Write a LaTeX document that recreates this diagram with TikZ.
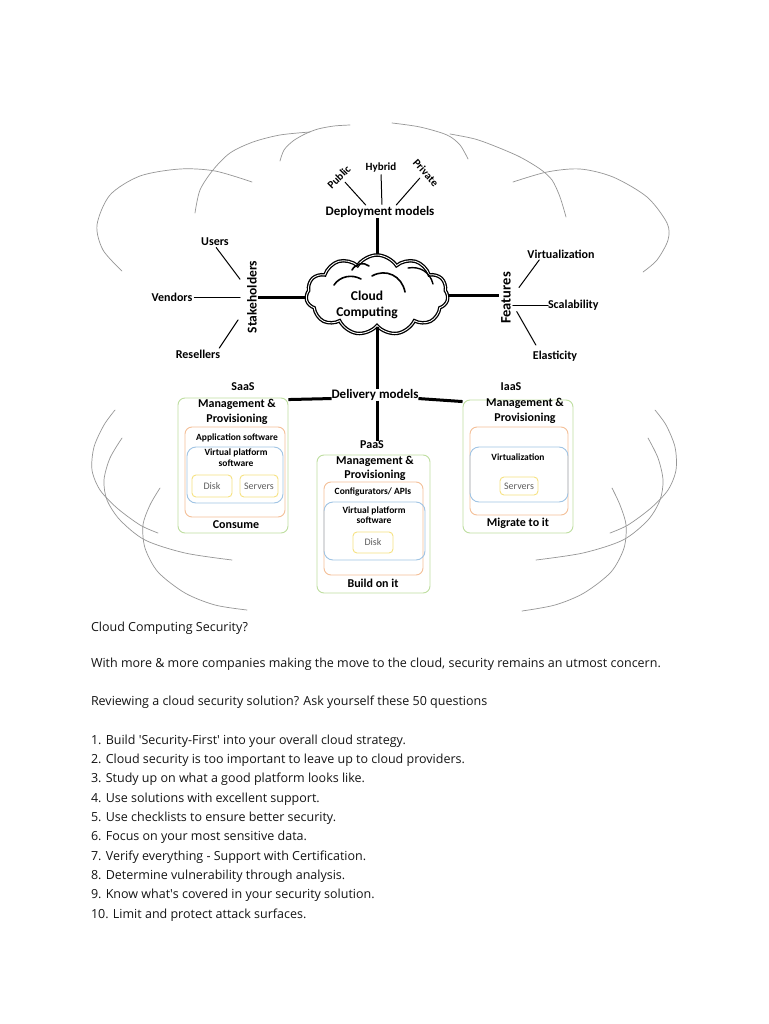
\documentclass[tikz,border=0pt]{standalone}
\usepackage{fontspec}
\setmainfont{Open Sans}
\newfontfamily\calfont{Carlito}
\usetikzlibrary{shapes.symbols}

\begin{document}
\begin{tikzpicture}[x=1pt,y=-1pt,line cap=round]
\definecolor{arcgray}{RGB}{150,150,150}
\definecolor{boxgreen}{RGB}{190,222,160}
\definecolor{boxorange}{RGB}{244,192,152}
\definecolor{boxblue}{RGB}{160,196,228}
\definecolor{boxyellow}{RGB}{246,226,130}
\definecolor{lblgray}{RGB}{95,95,95}
\definecolor{bodytext}{RGB}{20,20,20}
\tikzset{
  lbl/.style={inner sep=0, outer sep=0, text=black, font=\calfont\bfseries\fontsize{#1}{#1}\selectfont},
  lbl/.default=12,
  small/.style={inner sep=0, outer sep=0, text=lblgray, font=\calfont\fontsize{#1}{#1}\selectfont},
  small/.default=10,
  body/.style={inner sep=0, outer sep=0, anchor=base west, text=bodytext, font=\fontsize{12.5}{12.5}\selectfont},
  spoke/.style={line width=3pt, line cap=butt},
  twig/.style={line width=1pt, shorten <=2pt, shorten >=2pt},
  arcline/.style={draw=arcgray, line width=0.7pt},
  gbox/.style={draw=boxgreen, line width=0.9pt, rounded corners=7pt},
  obox/.style={draw=boxorange, line width=0.9pt, rounded corners=7pt},
  bbox/.style={draw=boxblue, line width=0.9pt, rounded corners=9pt},
  ybox/.style={draw=boxyellow, line width=0.9pt, rounded corners=4pt},
}
\useasboundingbox (0,0) rectangle (768,1024);
\fill[white] (0,0) rectangle (768,1024);

% outer cloud
\draw[arcline] plot[smooth] coordinates {(252,182) (215,171) (180,169) (140,176) (110,195) (97,225) (103,250) (122,271)};
\draw[arcline] plot[smooth] coordinates {(195,213) (200,190) (213,170) (230,153) (253,142) (280,135) (310,132)};
\draw[arcline] plot[smooth] coordinates {(280,161) (284,150) (293,141) (305,134) (318,129) (334,126) (350,125)};
\draw[arcline] plot[smooth] coordinates {(392,123) (420,127) (447,135) (460,145) (468,159)};
\draw[arcline] plot[smooth] coordinates {(450,134) (475,139) (497,147) (520,157) (540,169) (552,180) (560,197) (566,217)};
\draw[arcline] plot[smooth] coordinates {(513,182) (547,172) (580,169) (613,177) (647,197) (667,223) (668,240) (657,260) (643,272)};
\draw[arcline] plot[smooth] coordinates {(115,410) (104,425) (94,447) (92,470) (100,490) (117,508) (140,525) (158,533)};
\draw[arcline] plot[smooth] coordinates {(122,438) (110,458) (104,480) (107,500) (120,520) (145,540) (185,553) (232,560)};
\draw[arcline] plot[smooth] coordinates {(160,488) (150,505) (143,525) (145,548) (158,572) (185,593) (215,605) (247,610)};
\draw[arcline] plot[smooth] coordinates {(655,410) (666,425) (675,447) (676,470) (668,490) (651,508) (628,525) (610,533)};
\draw[arcline] plot[smooth] coordinates {(648,438) (658,458) (663,480) (660,500) (648,520) (623,540) (583,553) (536,560)};
\draw[arcline] plot[smooth] coordinates {(612,488) (620,505) (626,525) (624,548) (611,572) (584,593) (555,605) (522,611)};

% center
\node[cloud, draw, cloud puffs=11, cloud puff arc=115, aspect=1.8, minimum width=142, minimum height=80, line width=1.3pt, double, double distance=0.9pt] (cc) at (377,295) {};
\draw[line width=1.6pt] (334,285) .. controls (340,276) and (352,274) .. (361,279);
\draw[line width=1.6pt] (352,270) .. controls (356,263) and (364,262) .. (369,266);
\draw[line width=1.6pt] (372,276) .. controls (386,268) and (402,276) .. (405,292);
\draw[line width=1.4pt] (408,268) .. controls (420,266) and (430,272) .. (433,284);
\node[lbl, align=center, font=\calfont\bfseries\fontsize{13.5}{16}\selectfont] (cctext) at (367,305) {Cloud\\Computing};

% deployment models
\node[lbl=13] (dep) at (380,212) {Deployment models};
\node[lbl=11, rotate=45] (pub) at (339,177) {Public};
\node[lbl=11] (hyb) at (381,168) {Hybrid};
\node[lbl=11, rotate=-48] (priv) at (426,173) {Private};
\draw[twig] ([xshift=2pt,yshift=-1pt]pub.south) -- ([xshift=-13pt]dep.north);
\draw[twig] (hyb.south) -- ([xshift=2pt]dep.north);
\draw[twig] ([xshift=-2pt,yshift=-1pt]priv.south) -- ([xshift=15pt]dep.north);
\draw[spoke] (cc.north) -- (cc.north |- dep.south);

% stakeholders
\node[lbl=13.5, rotate=90] (stake) at (252,297) {Stakeholders};
\node[lbl] (users) at (215,242) {Users};
\node[lbl] (vend) at (172,297) {Vendors};
\node[lbl] (resel) at (198,354) {Resellers};
\draw[twig] (users.south) -- ([xshift=-6pt,yshift=-20pt]stake.north east);
\draw[twig] (vend.east) -- ([xshift=-5pt]stake.north);
\draw[twig] ([xshift=-2pt]resel.north east) -- ([xshift=-8pt,yshift=15pt]stake.north west);
\draw[spoke] ([xshift=1pt]stake.south) -- (stake.south -| cc.west);

% features
\node[lbl=14.5, rotate=90] (feat) at (506,298) {Features};
\node[lbl] (virt) at (561,254) {Virtualization};
\node[lbl, anchor=west] (scal) at (548,305) {Scalability};
\node[lbl] (elas) at (555,356) {Elasticity};
\draw[twig] ([xshift=13pt]virt.south west) -- ([xshift=7pt,yshift=-17pt]feat.south east);
\draw[line width=1pt] (scal.west) -- ([xshift=2pt]scal.west -| feat.south);
\draw[twig] ([xshift=4pt,yshift=4pt]elas.north west) -- ([xshift=5pt,yshift=14pt]feat.south west);
\draw[spoke] (cc.east) -- ([xshift=-2pt]cc.east -| feat.north);

% delivery models
\node[lbl=13] (deliv) at (375,395) {Delivery models};
\draw[spoke] (cc.south) -- (cc.south |- deliv.north);

% SaaS
\node[gbox, minimum width=110, minimum height=135] (saasbox) at (233,465.5) {};
\node[obox, minimum width=100, minimum height=90] (saasapp) at (235,472) {};
\node[bbox, minimum width=96, minimum height=56] (saasvp) at (235,475) {};
\node[ybox, minimum width=40, minimum height=22] (saasdisk) at (212,486) {};
\node[ybox, minimum width=38, minimum height=22] (saassrv) at (259,486) {};
\node[lbl] (saas) at (243,387) {SaaS};
\node[lbl, align=center, font=\calfont\bfseries\fontsize{12}{15}\selectfont] (saasmp) at (237,411.5) {Management \&\\Provisioning};
\node[lbl=9.5] (saasapptxt) at (237,438) {Application software};
\node[lbl, align=center, font=\calfont\bfseries\fontsize{9.5}{11}\selectfont] (saasvptxt) at (236,457.5) {Virtual platform\\software};
\node[small] (saasdisktxt) at (saasdisk) {Disk};
\node[small] (saassrvtxt) at (saassrv) {Servers};
\node[lbl] (saasuse) at (236,525) {Consume};
\draw[spoke] (deliv.base west) -- ([yshift=-2pt]saasbox.north east);

% PaaS
\node[gbox, minimum width=113, minimum height=138] (paasbox) at (373.5,524) {};
\node[obox, minimum width=99, minimum height=93] (paascfg) at (373.5,528.5) {};
\node[bbox, minimum width=101, minimum height=58] (paasvp) at (374.5,531) {};
\node[ybox, minimum width=40, minimum height=21] (paasdisk) at (373,542.5) {};
\node[lbl] (paas) at (372,445) {PaaS};
\node[lbl, align=center, font=\calfont\bfseries\fontsize{12}{13.5}\selectfont] (paasmp) at (375,468.5) {Management \&\\Provisioning};
\node[lbl=9.5] (paascfgtxt) at (373,492) {Configurators/ APIs};
\node[lbl, align=center, font=\calfont\bfseries\fontsize{9.5}{10.5}\selectfont] (paasvptxt) at (374,515) {Virtual platform\\software};
\node[small] (paasdisktxt) at (paasdisk) {Disk};
\node[lbl] (paasuse) at (373,583) {Build on it};
\draw[spoke] (cc.south |- deliv.south) -- (cc.south |- paas.north);

% IaaS
\node[gbox, minimum width=110, minimum height=133] (iaasbox) at (518,466.5) {};
\node[obox, minimum width=98, minimum height=88] (iaasvirt) at (519,471) {};
\node[bbox, minimum width=98, minimum height=55] (iaasvp) at (519,474.5) {};
\node[ybox, minimum width=38, minimum height=18] (iaassrv) at (519,486) {};
\node[lbl] (iaas) at (511,387) {IaaS};
\node[lbl, align=center, font=\calfont\bfseries\fontsize{12}{15}\selectfont] (iaasmp) at (525,410.5) {Management \&\\Provisioning};
\node[lbl=9.5] (iaasvirttxt) at (518,457) {Virtualization};
\node[small] (iaassrvtxt) at (iaassrv) {Servers};
\node[lbl] (iaasuse) at (518,523) {Migrate to it};
\draw[spoke] (deliv.base east) -- ([yshift=-2pt]iaasbox.north west);

% text below
\node[body] (title) at (91,631) {Cloud Computing Security?};
\node[body] (intro) at (91,667) {With more \& more companies making the move to the cloud, security remains an utmost concern.};
\node[body] (ask) at (91,705) {Reviewing a cloud security solution? Ask yourself these 50 questions};
\node[body] (q1) at (91,744) {1. Build \textquotesingle Security-First\textquotesingle{} into your overall cloud strategy.};
\node[body] (q2) at (91,763.3) {2. Cloud security is too important to leave up to cloud providers.};
\node[body] (q3) at (91,782.7) {3. Study up on what a good platform looks like.};
\node[body] (q4) at (91,802) {4. Use solutions with excellent support.};
\node[body] (q5) at (91,821.3) {5. Use checklists to ensure better security.};
\node[body] (q6) at (91,840.7) {6. Focus on your most sensitive data.};
\node[body] (q7) at (91,860) {7. Verify everything - Support with Certification.};
\node[body] (q8) at (91,879.3) {8. Determine vulnerability through analysis.};
\node[body] (q9) at (91,898.7) {9. Know what\textquotesingle s covered in your security solution.};
\node[body] (q10) at (91,918) {10. Limit and protect attack surfaces.};
\end{tikzpicture}
\end{document}
